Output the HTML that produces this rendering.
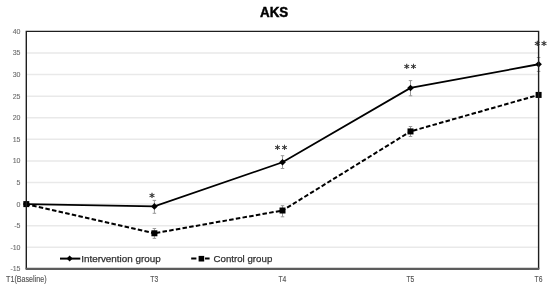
<!DOCTYPE html>
<html><head><meta charset="utf-8"><style>
html,body{margin:0;padding:0;background:#fff;}
svg{display:block;}
text{font-family:"Liberation Sans",sans-serif;}
.yl{font-size:7px;fill:#6e6e6e;stroke:#6e6e6e;stroke-width:0.12px;text-anchor:end;}
.xl{font-size:8.2px;fill:#555;stroke:#555;stroke-width:0.15px;text-anchor:middle;}
.lg{font-size:9.8px;fill:#303030;stroke:#303030;stroke-width:0.25px;}
.st{font-family:"DejaVu Sans",sans-serif;font-size:11px;letter-spacing:1.35px;fill:#2a2a2a;stroke:#2a2a2a;stroke-width:0.3px;text-anchor:middle;}
.tt{font-size:15px;font-weight:bold;fill:#000;}
</style></head><body>
<svg width="550" height="289" viewBox="0 0 550 289">
<rect width="550" height="289" fill="#fff"/>
<line x1="27" x2="538" y1="52.95" y2="52.95" stroke="#e9e9e9" stroke-width="1.5"/>
<line x1="27" x2="538" y1="74.54" y2="74.54" stroke="#e9e9e9" stroke-width="1.5"/>
<line x1="27" x2="538" y1="96.14" y2="96.14" stroke="#e9e9e9" stroke-width="1.5"/>
<line x1="27" x2="538" y1="117.73" y2="117.73" stroke="#e9e9e9" stroke-width="1.5"/>
<line x1="27" x2="538" y1="139.33" y2="139.33" stroke="#e9e9e9" stroke-width="1.5"/>
<line x1="27" x2="538" y1="160.92" y2="160.92" stroke="#e9e9e9" stroke-width="1.5"/>
<line x1="27" x2="538" y1="182.52" y2="182.52" stroke="#e9e9e9" stroke-width="1.5"/>
<line x1="27" x2="538" y1="204.11" y2="204.11" stroke="#e9e9e9" stroke-width="1.5"/>
<line x1="27" x2="538" y1="225.71" y2="225.71" stroke="#e9e9e9" stroke-width="1.5"/>
<line x1="27" x2="538" y1="247.30" y2="247.30" stroke="#e9e9e9" stroke-width="1.5"/>
<text x="20.5" y="33.8" class="yl">40</text>
<text x="20.5" y="55.3" class="yl">35</text>
<text x="20.5" y="76.9" class="yl">30</text>
<text x="20.5" y="98.5" class="yl">25</text>
<text x="20.5" y="120.1" class="yl">20</text>
<text x="20.5" y="141.7" class="yl">15</text>
<text x="20.5" y="163.3" class="yl">10</text>
<text x="20.5" y="184.9" class="yl">5</text>
<text x="20.5" y="206.5" class="yl">0</text>
<text x="20.5" y="228.1" class="yl">-5</text>
<text x="20.5" y="249.7" class="yl">-10</text>
<text x="20.5" y="271.3" class="yl">-15</text>
<text x="26.3" y="282" class="xl" textLength="40.5" lengthAdjust="spacingAndGlyphs">T1(Baseline)</text>
<text x="150.3" y="282" class="xl" style="text-anchor:start" textLength="7.9" lengthAdjust="spacingAndGlyphs">T3</text>
<text x="278.4" y="282" class="xl" style="text-anchor:start" textLength="7.9" lengthAdjust="spacingAndGlyphs">T4</text>
<text x="406.4" y="282" class="xl" style="text-anchor:start" textLength="7.9" lengthAdjust="spacingAndGlyphs">T5</text>
<text x="534.5" y="282" class="xl" style="text-anchor:start" textLength="7.9" lengthAdjust="spacingAndGlyphs">T6</text>
<path d="M154.4 200.4V213.3M152.65 200.4H156.15M152.65 213.3H156.15" stroke="#999" stroke-width="1" fill="none"/>
<path d="M282.5 155.7V168.5M280.75 155.7H284.25M280.75 168.5H284.25" stroke="#999" stroke-width="1" fill="none"/>
<path d="M410.5 80.6V95.8M408.75 80.6H412.25M408.75 95.8H412.25" stroke="#999" stroke-width="1" fill="none"/>
<path d="M538.6 57.5V71.4M536.85 57.5H540.35M536.85 71.4H540.35" stroke="#999" stroke-width="1" fill="none"/>
<path d="M154.4 228.5V238.4M152.65 228.5H156.15M152.65 238.4H156.15" stroke="#999" stroke-width="1" fill="none"/>
<path d="M282.5 205.7V216.8M280.75 205.7H284.25M280.75 216.8H284.25" stroke="#999" stroke-width="1" fill="none"/>
<path d="M410.5 126.5V136.5M408.75 126.5H412.25M408.75 136.5H412.25" stroke="#999" stroke-width="1" fill="none"/>
<line x1="26.3" y1="204.11" x2="154.4" y2="233.27" stroke="#000" stroke-width="2" stroke-dasharray="4.5,2.27" stroke-dashoffset="0.72"/>
<line x1="154.4" y1="233.27" x2="282.5" y2="210.51" stroke="#000" stroke-width="2" stroke-dasharray="4.5,2.27" stroke-dashoffset="5.3"/>
<line x1="282.5" y1="210.51" x2="410.5" y2="131.42" stroke="#000" stroke-width="2" stroke-dasharray="4.5,2.27" stroke-dashoffset="1.39"/>
<line x1="410.5" y1="131.42" x2="538.6" y2="94.93" stroke="#000" stroke-width="2" stroke-dasharray="4.5,2.27" stroke-dashoffset="4.18"/>
<polyline points="26.3,204.11 154.4,206.40 282.5,162.26 410.5,87.93 538.6,64.26" fill="none" stroke="#000" stroke-width="1.8"/>
<rect x="23.30" y="201.11" width="6" height="6" fill="#000"/>
<rect x="151.40" y="230.27" width="6" height="6" fill="#000"/>
<rect x="279.50" y="207.51" width="6" height="6" fill="#000"/>
<rect x="407.50" y="128.42" width="6" height="6" fill="#000"/>
<rect x="535.60" y="91.93" width="6" height="6" fill="#000"/>
<path d="M26.30 200.81L29.60 204.11L26.30 207.41L23.00 204.11Z" fill="#000"/>
<path d="M154.40 203.10L157.70 206.40L154.40 209.70L151.10 206.40Z" fill="#000"/>
<path d="M282.50 158.96L285.80 162.26L282.50 165.56L279.20 162.26Z" fill="#000"/>
<path d="M410.50 84.63L413.80 87.93L410.50 91.23L407.20 87.93Z" fill="#000"/>
<path d="M538.60 60.96L541.90 64.26L538.60 67.56L535.30 64.26Z" fill="#000"/>
<path d="M26.3 268.9V31.35H538.6V268.9" fill="none" stroke="#1e1e1e" stroke-width="1.4"/>
<line x1="25.6" x2="539.3" y1="268.9" y2="268.9" stroke="#5c5c5c" stroke-width="2.1"/>
<text x="152.8" y="200.7" class="st">*</text>
<text x="281.7" y="153.2" class="st">**</text>
<text x="410.8" y="72.4" class="st">**</text>
<text x="541.3" y="48.7" class="st">**</text>
<line x1="60" x2="80.3" y1="258.6" y2="258.6" stroke="#000" stroke-width="2"/>
<path d="M69.60 255.60L72.60 258.60L69.60 261.60L66.60 258.60Z" fill="#000"/>
<text x="81.2" y="261.8" class="lg" textLength="79.5" lengthAdjust="spacingAndGlyphs">Intervention group</text>
<path d="M191.2 258.6H196.4M205 258.6H209.6" stroke="#000" stroke-width="2"/>
<rect x="198.60" y="255.90" width="5.6" height="5.6" fill="#000"/>
<text x="213.5" y="261.8" class="lg" textLength="58.8" lengthAdjust="spacingAndGlyphs">Control group</text>
<text x="260" y="17.2" class="tt" textLength="28.3" lengthAdjust="spacingAndGlyphs" stroke="#000" stroke-width="0.45">AKS</text>
</svg>
</body></html>
